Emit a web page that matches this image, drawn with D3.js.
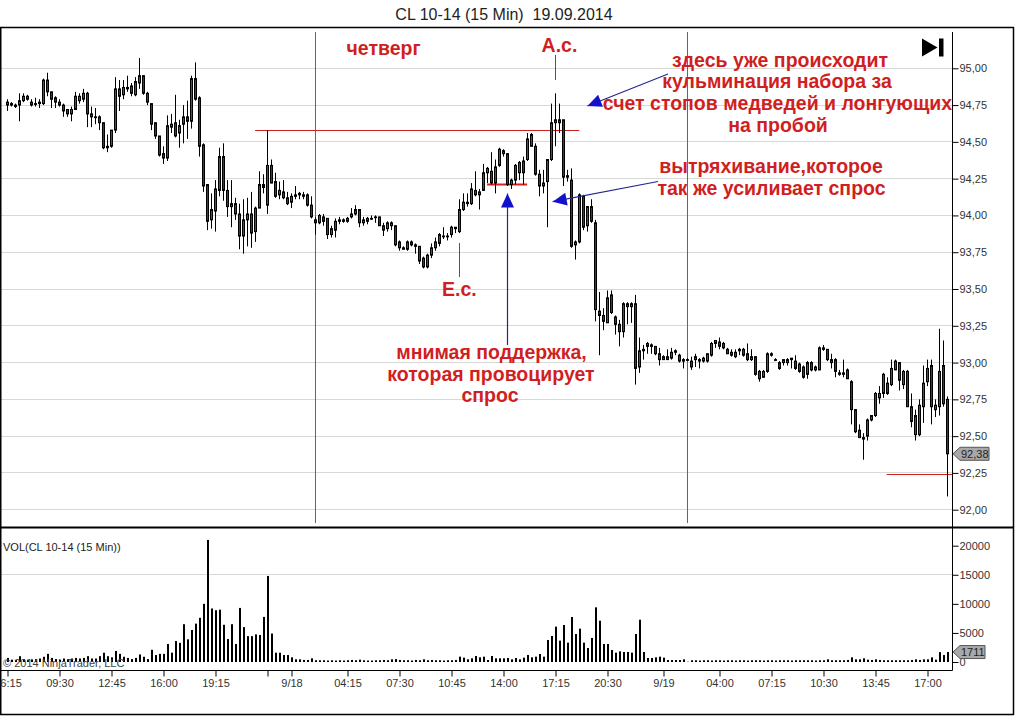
<!DOCTYPE html>
<html><head><meta charset="utf-8">
<script src="https://cdn.jsdelivr.net/npm/d3@7"></script>
<style>
body{margin:0;background:#fff}
svg{display:block}
text{font-family:"Liberation Sans",Arial,sans-serif}
</style>
</head><body><svg id="c" width="1016" height="716"></svg>
<script>
// ---- data ----
const openP=[94.75,94.76,94.75,94.75,94.78,94.81,94.77,94.76,94.76,94.76,
94.92,94.84,94.80,94.77,94.75,94.72,94.69,94.72,94.78,94.79,
94.83,94.69,94.67,94.67,94.63,94.46,94.47,94.58,94.86,94.82,
94.87,94.88,94.82,94.90,94.95,94.83,94.76,94.63,94.54,94.42,
94.39,94.60,94.63,94.56,94.62,94.67,94.64,94.93,94.80,94.48,
94.21,93.97,94.03,94.17,94.40,94.17,94.06,94.08,94.01,93.86,
93.97,94.01,93.89,94.05,94.21,94.07,94.34,94.23,94.14,94.16,
94.12,94.09,94.13,94.14,94.14,94.14,94.07,93.97,93.95,93.99,
93.98,93.87,93.90,93.96,93.97,93.96,93.99,94.01,94.04,93.95,
93.96,93.98,93.99,93.99,93.93,93.91,93.93,93.93,93.82,93.78,
93.77,93.82,93.80,93.79,93.71,93.65,93.73,93.78,93.81,93.86,
93.86,93.87,93.92,93.89,94.04,94.08,94.08,94.17,94.14,94.17,
94.29,94.30,94.22,94.34,94.44,94.42,94.21,94.24,94.29,94.37,
94.38,94.47,94.47,94.28,94.20,94.23,94.38,94.63,94.65,94.65,
94.26,94.24,93.80,93.82,94.13,93.93,94.06,93.95,93.35,93.32,
93.27,93.46,93.31,93.26,93.21,93.40,93.38,93.40,92.97,93.08,
93.11,93.12,93.11,93.06,93.02,93.04,93.03,93.07,93.05,93.01,
93.02,93.01,93.02,93.02,93.01,93.01,93.05,93.13,93.14,93.13,
93.09,93.07,93.07,93.08,93.09,93.06,93.02,93.04,92.94,92.90,
92.94,93.06,93.02,93.00,93.00,93.00,93.02,93.01,92.99,92.97,
92.92,93.00,92.95,92.95,93.10,93.09,93.02,93.02,92.93,92.92,
92.95,92.87,92.68,92.54,92.49,92.50,92.61,92.64,92.76,92.79,
92.86,92.85,92.95,93.00,92.85,92.94,92.70,92.51,92.51,92.70,
92.87,92.98,92.68,92.70,92.98,92.75];
const highP=[94.79,94.77,94.76,94.83,94.83,94.82,94.79,94.80,94.79,94.93,
94.97,94.84,94.81,94.79,94.76,94.72,94.74,94.84,94.83,94.86,
94.84,94.74,94.73,94.68,94.63,94.55,94.58,94.94,94.92,94.92,
94.95,94.90,94.94,95.07,94.95,94.84,94.76,94.63,94.54,94.47,
94.68,94.69,94.82,94.65,94.75,94.78,94.95,95.04,94.81,94.49,
94.21,94.15,94.24,94.46,94.49,94.24,94.24,94.12,94.08,94.11,
94.12,94.16,94.06,94.30,94.28,94.58,94.38,94.29,94.23,94.24,
94.16,94.15,94.20,94.16,94.16,94.15,94.13,93.99,94.01,94.01,
93.98,93.93,93.98,93.99,93.98,93.99,94.05,94.07,94.04,93.99,
93.99,94.00,94.00,93.99,93.95,93.96,93.96,93.93,93.83,93.79,
93.83,93.83,93.81,93.79,93.72,93.74,93.81,93.85,93.88,93.92,
93.88,93.93,93.92,94.11,94.15,94.15,94.22,94.30,94.18,94.35,
94.33,94.43,94.38,94.46,94.45,94.42,94.25,94.35,94.37,94.40,
94.56,94.56,94.49,94.31,94.31,94.38,94.76,94.83,94.76,94.65,
94.31,94.32,93.83,94.15,94.14,94.06,94.11,93.97,93.48,93.37,
93.49,93.49,93.32,93.29,93.41,93.41,93.41,93.46,93.17,93.12,
93.14,93.13,93.11,93.10,93.05,93.09,93.10,93.09,93.06,93.03,
93.03,93.04,93.06,93.03,93.04,93.06,93.14,93.15,93.17,93.14,
93.10,93.09,93.09,93.10,93.10,93.13,93.09,93.04,92.95,92.95,
93.07,93.07,93.03,93.01,93.02,93.03,93.03,93.05,93.00,92.98,
93.01,93.01,92.98,93.11,93.12,93.09,93.06,93.03,92.95,93.02,
92.96,92.88,92.68,92.58,92.52,92.62,92.64,92.80,92.84,92.93,
92.90,93.02,93.02,93.00,92.95,92.95,92.79,92.68,92.75,92.98,
93.02,93.02,92.75,93.23,93.15,92.77];
const lowP=[94.71,94.74,94.73,94.64,94.77,94.78,94.74,94.74,94.73,94.75,
94.81,94.73,94.73,94.74,94.67,94.67,94.64,94.72,94.76,94.77,
94.60,94.60,94.62,94.58,94.45,94.43,94.46,94.56,94.71,94.79,
94.84,94.81,94.81,94.86,94.82,94.75,94.58,94.52,94.40,94.35,
94.37,94.56,94.53,94.46,94.49,94.52,94.59,94.78,94.40,94.16,
93.90,93.91,93.89,94.13,94.10,93.99,93.92,93.97,93.77,93.74,
93.79,93.78,93.82,94.05,94.15,94.01,94.22,94.12,94.11,94.11,
94.07,94.05,94.11,94.11,94.11,94.06,93.98,93.87,93.94,93.93,
93.84,93.85,93.85,93.94,93.95,93.95,93.98,94.00,93.92,93.93,
93.94,93.97,93.95,93.93,93.86,93.89,93.90,93.79,93.76,93.77,
93.76,93.79,93.74,93.67,93.64,93.64,93.71,93.76,93.79,93.84,
93.83,93.85,93.88,93.88,94.03,94.06,94.07,94.13,94.04,94.17,
94.22,94.21,94.15,94.33,94.40,94.20,94.18,94.21,94.24,94.21,
94.37,94.47,94.27,94.13,94.15,93.92,94.37,94.47,94.56,94.20,
94.23,93.78,93.70,93.81,93.90,93.89,93.95,93.28,93.05,93.22,
93.27,93.33,93.19,93.11,93.17,93.26,93.27,92.85,92.93,93.02,
93.06,93.06,93.05,92.98,93.02,93.02,93.02,93.05,93.00,92.96,
93.01,92.95,92.97,92.96,93.00,93.00,93.04,93.10,93.09,93.09,
93.06,93.04,93.03,93.05,93.04,93.01,93.01,92.91,92.87,92.90,
92.93,93.04,93.01,92.95,92.98,92.98,92.96,92.95,92.93,92.89,
92.89,92.94,92.94,92.95,93.08,93.01,92.96,92.90,92.91,92.90,
92.89,92.58,92.52,92.49,92.34,92.47,92.60,92.63,92.72,92.76,
92.78,92.84,92.95,92.81,92.82,92.70,92.56,92.47,92.50,92.59,
92.84,92.58,92.63,92.64,92.70,92.09];
const closeP=[94.77,94.75,94.74,94.78,94.81,94.79,94.75,94.76,94.77,94.92,
94.84,94.79,94.77,94.75,94.71,94.69,94.72,94.81,94.81,94.83,
94.69,94.67,94.67,94.63,94.46,94.47,94.58,94.86,94.81,94.87,
94.86,94.83,94.91,94.95,94.83,94.77,94.62,94.54,94.41,94.39,
94.61,94.62,94.54,94.61,94.67,94.64,94.93,94.79,94.47,94.20,
93.96,94.04,94.18,94.40,94.17,94.06,94.08,94.01,93.86,93.97,
94.01,93.88,94.05,94.21,94.19,94.34,94.22,94.13,94.17,94.12,
94.08,94.13,94.14,94.15,94.13,94.07,93.99,93.95,94.00,93.96,
93.87,93.91,93.96,93.97,93.96,93.98,94.01,94.04,93.95,93.97,
93.98,93.98,93.99,93.93,93.90,93.95,93.95,93.80,93.78,93.77,
93.82,93.80,93.79,93.69,93.65,93.73,93.78,93.82,93.87,93.86,
93.86,93.92,93.91,94.04,94.09,94.09,94.18,94.14,94.16,94.29,
94.32,94.22,94.33,94.45,94.42,94.21,94.24,94.34,94.36,94.29,
94.52,94.55,94.28,94.20,94.22,94.38,94.63,94.65,94.63,94.26,
94.27,93.79,93.82,94.14,93.92,94.06,93.96,93.36,93.32,93.28,
93.44,93.34,93.26,93.21,93.40,93.38,93.40,92.96,93.08,93.09,
93.13,93.11,93.06,93.02,93.04,93.02,93.07,93.08,93.01,93.02,
93.02,92.97,93.04,93.01,93.03,93.06,93.13,93.15,93.11,93.10,
93.06,93.05,93.04,93.09,93.05,93.02,93.04,92.92,92.89,92.94,
93.06,93.05,93.02,92.96,93.02,93.02,93.03,92.96,92.94,92.90,
93.00,92.95,92.97,93.10,93.09,93.02,93.00,92.94,92.92,92.93,
92.89,92.68,92.53,92.49,92.48,92.61,92.64,92.79,92.79,92.92,
92.79,92.96,93.01,92.88,92.94,92.70,92.60,92.64,92.71,92.86,
92.96,92.70,92.71,92.94,92.72,92.38];
const volume=[700,400,350,1000,500,400,450,500,600,900,
1400,700,500,400,600,500,600,700,600,700,
1000,600,600,1000,1600,1000,800,1900,1400,900,
700,500,700,1300,900,500,2100,1200,1400,1400,
3100,1600,3600,3300,6500,3900,5500,6600,7600,10000,
21000,9200,8900,9000,6400,3950,6500,3100,9300,6000,
4450,4450,4750,4650,7750,14800,4900,1600,1600,1200,
1200,800,460,460,350,350,630,300,300,300,
250,300,250,300,250,300,350,300,400,300,
250,250,300,300,350,300,460,500,350,300,
300,250,350,300,460,300,350,300,300,250,
300,300,350,917,745,459,631,1032,803,917,
344,1032,631,631,631,688,459,688,459,745,
1204,803,917,1376,917,3784,4472,6077,3669,6364,
3325,7740,4816,5733,3325,2408,4128,9401,7108,3096,
3096,2064,1605,1835,1720,1720,1605,4816,7280,1720,
688,688,803,917,745,344,344,344,344,459,
50,300,300,250,300,300,250,300,300,250,
300,300,250,300,300,250,300,300,300,250,
300,300,250,300,300,300,250,300,300,300,
300,300,250,300,300,459,300,300,300,300,
350,800,459,459,630,400,350,459,350,300,
300,300,300,300,300,300,350,459,350,459,
459,800,400,1700,1200,1711];
const tickIdx=[0,13,26,39,52,65,71,85,98,111,124,137,150,164,178,191,204,217,230];
const tickLbl=["06:15","09:30","12:45","16:00","19:15","","9/18","04:15","07:30","10:45","14:00","17:15","20:30","9/19","04:00","07:15","10:30","13:45","17:00"];
const priceTicks=[92,92.25,92.5,92.75,93,93.25,93.5,93.75,94,94.25,94.5,94.75,95];
const volTicks=[0,5000,10000,15000,20000];
const sessionBreaks=[77,170];
const lastPrice=92.38, lastVolume=1711;

// ---- scales ----
const svg=d3.select("#c");
const x=d3.scaleLinear().domain([0,235]).range([7.5,947.5]);
const y=d3.scaleLinear().domain([92,95]).range([509.7,68.3]);
const yv=d3.scaleLinear().domain([0,20000]).range([662,545.7]);
const AX=952.5;
const font='"Liberation Sans",Arial,sans-serif';
const RED="#d01f1f";
const crisp=v=>Math.round(v-0.5)+0.5;

// title
svg.append("text").attr("x",504).attr("y",19.5).attr("text-anchor","middle")
  .attr("font-size",16).attr("fill","#222").style("white-space","pre")
  .text("CL 10-14 (15 Min)  19.09.2014");

// gridlines
svg.append("g").selectAll("line").data(priceTicks).join("line")
  .attr("x1",0).attr("x2",AX).attr("y1",d=>crisp(y(d))).attr("y2",d=>crisp(y(d)))
  .attr("stroke","#d8d8d8");
svg.append("line").attr("x1",0).attr("x2",AX).attr("y1",crisp(yv(15000))).attr("y2",crisp(yv(15000))).attr("stroke","#d8d8d8");

// session separators
svg.append("g").selectAll("line").data(sessionBreaks).join("line")
  .attr("x1",d=>x(d)).attr("x2",d=>x(d)).attr("y1",32).attr("y2",523)
  .attr("stroke","#5c5ca8").attr("stroke-width",1);

// red level lines
svg.append("line").attr("x1",x(61.9)).attr("x2",x(142.95)).attr("y1",crisp(y(94.58))).attr("y2",crisp(y(94.58))).attr("stroke","#cc2020");
svg.append("line").attr("x1",x(219.8)).attr("x2",AX).attr("y1",crisp(y(92.24))).attr("y2",crisp(y(92.24))).attr("stroke","#cc2020");
svg.append("line").attr("x1",x(119.9)).attr("x2",x(129.9)).attr("y1",y(94.21)).attr("y2",y(94.21)).attr("stroke","#dd2020").attr("stroke-width",2);

// candles
const idx=d3.range(openP.length);
const cg=svg.append("g");
cg.selectAll("line").data(idx).join("line")
  .attr("x1",i=>x(i)).attr("x2",i=>x(i)).attr("y1",i=>y(highP[i])).attr("y2",i=>y(lowP[i]))
  .attr("stroke","#000").attr("stroke-width",1);
cg.selectAll("rect").data(idx).join("rect")
  .attr("x",i=>x(i)-1).attr("width",2)
  .attr("y",i=>y(Math.max(openP[i],closeP[i])))
  .attr("height",i=>Math.max(Math.abs(y(openP[i])-y(closeP[i])),0.8))
  .attr("fill",i=>closeP[i]>=openP[i]?"#2f6633":"#8e1c1c")
  .attr("stroke","#000").attr("stroke-width",1);

// volume bars
svg.append("g").selectAll("rect").data(idx).join("rect")
  .attr("x",i=>x(i)-0.5).attr("width",2)
  .attr("y",i=>yv(volume[i])).attr("height",i=>yv(0)-yv(volume[i]))
  .attr("fill","#000");

// frame
const fr=svg.append("g").attr("stroke","#000").attr("fill","none");
fr.append("line").attr("x1",0).attr("x2",1014).attr("y1",27.5).attr("y2",27.5).attr("stroke-width",1.5);
fr.append("line").attr("x1",0.75).attr("x2",0.75).attr("y1",27).attr("y2",715).attr("stroke-width",1.5);
fr.append("line").attr("x1",1013.5).attr("x2",1013.5).attr("y1",27).attr("y2",715).attr("stroke-width",1.5);
fr.append("line").attr("x1",0).attr("x2",1014).attr("y1",714.5).attr("y2",714.5).attr("stroke-width",1.5);
fr.append("line").attr("x1",0).attr("x2",1014).attr("y1",527.5).attr("y2",527.5).attr("stroke-width",2);
fr.append("line").attr("x1",0).attr("x2",AX).attr("y1",670.5).attr("y2",670.5);
fr.append("line").attr("x1",AX).attr("x2",AX).attr("y1",32).attr("y2",670.5);

// axes
function styleAxis(g){
  g.select(".domain").remove();
  g.selectAll(".tick line").attr("stroke","#000");
  g.selectAll(".tick text").attr("fill","#333").attr("font-size",11).attr("font-family",font);
}
svg.append("g").attr("transform",`translate(${AX},0)`)
  .call(d3.axisRight(y).tickValues(priceTicks).tickSize(6).tickPadding(1)
    .tickFormat(d=>d3.format(".2f")(d).replace(".",",")))
  .call(styleAxis);
svg.append("g").attr("transform",`translate(${AX},0)`)
  .call(d3.axisRight(yv).tickValues(volTicks).tickSize(6).tickPadding(1).tickFormat(d3.format("d")))
  .call(styleAxis);
svg.append("g").attr("transform","translate(0,670.5)")
  .call(d3.axisBottom(x).tickValues(tickIdx).tickSize(6).tickPadding(3).tickFormat((d,i)=>tickLbl[i]))
  .call(styleAxis);

// last value markers
function marker(cy,label,w){
  svg.append("path").attr("d",`M953,${cy} L960,${cy-6.5} L${960+w},${cy-6.5} L${960+w},${cy+6.5} L960,${cy+6.5} Z`)
    .attr("fill","#a8a8a8").attr("stroke","#555");
  svg.append("text").attr("x",961).attr("y",cy+4).attr("font-size",11).attr("fill","#222").text(label);
}
marker(y(lastPrice),d3.format(".2f")(lastPrice).replace(".",","),29);
marker(yv(lastVolume),String(lastVolume),25);

// panel labels
svg.append("text").attr("x",3).attr("y",550.5).attr("font-size",11).attr("fill","#222").text("VOL(CL 10-14 (15 Min))");
svg.append("text").attr("x",3).attr("y",666.5).attr("font-size",11).attr("fill","#444").text("© 2014 NinjaTrader, LLC");

// play-to-end icon
svg.append("path").attr("d","M922,38.5 L922,56.5 L937.5,47.5 Z").attr("fill","#000");
svg.append("rect").attr("x",939).attr("y",38.5).attr("width",4.5).attr("height",18).attr("fill","#000");

// annotations
function ann(tx,ty,s,anchor){
  svg.append("text").attr("x",tx).attr("y",ty).attr("text-anchor",anchor||"middle")
    .attr("font-size",19.5).attr("font-weight","bold").attr("fill",RED).text(s);
}
ann(346.5,54.7,"четверг","start");
ann(559.5,52,"А.с.");
ann(459.3,296,"Е.с.");
ann(780,66.7,"здесь уже происходит");
ann(777,88.3,"кульминация набора за");
ann(777.5,110,"счет стопов медведей и лонгующих");
ann(778,131.7,"на пробой");
ann(771,173.3,"вытряхивание,которое");
ann(771.5,195,"так же усиливает спрос");
ann(491.5,359.3,"мнимая поддержка,");
ann(491,381,"которая провоцирует");
ann(490,401.7,"спрос");
svg.append("line").attr("x1",x(137)).attr("x2",x(137)).attr("y1",55).attr("y2",80).attr("stroke",RED);
svg.append("line").attr("x1",x(113)).attr("x2",x(113)).attr("y1",243).attr("y2",277).attr("stroke",RED);

// arrows
function arrow(x1,y1,x2,y2){
  svg.append("line").attr("x1",x1).attr("y1",y1).attr("x2",x2).attr("y2",y2).attr("stroke","#262690").attr("stroke-width",1.2);
  const a=Math.atan2(y2-y1,x2-x1), L=14, Wd=6.5;
  const bx=x2-L*Math.cos(a), by=y2-L*Math.sin(a);
  const px=-Math.sin(a)*Wd, py=Math.cos(a)*Wd;
  svg.append("path").attr("d",`M${x2},${y2} L${bx+px},${by+py} L${bx-px},${by-py} Z`).attr("fill","#1212cc");
}
arrow(x(125),345,x(125),193.5);
arrow(668,74,587.5,106);
arrow(658,181.5,552.7,201.7);
</script>
</body></html>
